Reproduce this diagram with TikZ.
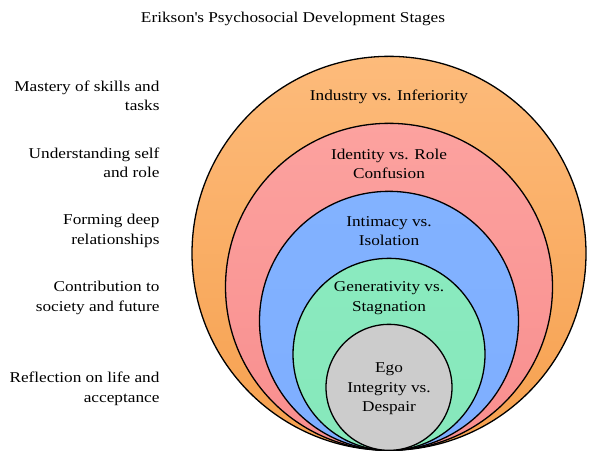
\documentclass[tikz,border=0pt]{standalone}
\usepackage{fontspec}
\setmainfont{Liberation Serif}[FakeStretch=1.15]
\usetikzlibrary{positioning,shapes,backgrounds}
\definecolor{indtop}{HTML}{FDBB7B}
\definecolor{indbot}{HTML}{F6A04E}
\definecolor{idetop}{HTML}{FCA29F}
\definecolor{idebot}{HTML}{F88E8E}
\definecolor{inttop}{HTML}{82B2FF}
\definecolor{intbot}{HTML}{7EAEFF}
\definecolor{gentop}{HTML}{8AEABF}
\definecolor{genbot}{HTML}{86E8BB}
\definecolor{egofill}{HTML}{CCCCCC}
\tikzset{stage/.style={
    circle,inner sep=0pt,anchor=south,
    line width=1.3pt,draw=black}
    }
\tikzset{stagetext/.style={
    align=center,font=\fontsize{15}{19.5}\selectfont}
}
\tikzset{aspect/.style={anchor=east,align=right,
    font=\fontsize{15}{19.5}\selectfont},
  heading/.style={font=\fontsize{15}{18}\selectfont},
}

\begin{document}
\begin{tikzpicture}[x=1pt,y=1pt]
    \useasboundingbox (0,0) rectangle (597,462);
    \coordinate (base) at (389,11);
    % circles
    \node (industry) [stage,minimum size=394pt,top color=indtop,bottom color=indbot] at (base) {};
    \node (identity) [stage,minimum size=327pt,top color=idetop,bottom color=idebot] at (base) {};
    \node (intimacy) [stage,minimum size=259pt,top color=inttop,bottom color=intbot] at (base) {};
    \node (generat) [stage,minimum size=192pt,top color=gentop,bottom color=genbot] at (base) {};
    \node (ego) [stage,minimum size=126pt,fill=egofill] at (base) {};
    % stage names
    \node (tindustry) [stagetext] at (389,365) {Industry vs. Inferiority};
    \node (tidentity) [stagetext] at (389,298) {Identity vs. Role\\Confusion};
    \node (tintimacy) [stagetext] at (389,231) {Intimacy vs.\\Isolation};
    \node (tgenerat) [stagetext] at (389,164) {Generativity vs.\\Stagnation};
    \node (tego) [stagetext] at (389,73) {Ego\\Integrity vs.\\Despair};
    % aspects
    \node (aindustry) [aspect] at (163,366) {Mastery of skills and\\tasks};
    \node (aidentity) [aspect] at (163,299) {Understanding self\\and role};
    \node (aintimacy) [aspect] at (163,231) {Forming deep\\relationships};
    \node (agenerat) [aspect] at (163,164) {Contribution to\\society and future};
    \node (aego) [aspect] at (163,73) {Reflection on life and\\acceptance};
    % title
    \node (title) [heading] at (293,443) {Erikson\textquotesingle s Psychosocial Development Stages};
  \end{tikzpicture}
\end{document}
